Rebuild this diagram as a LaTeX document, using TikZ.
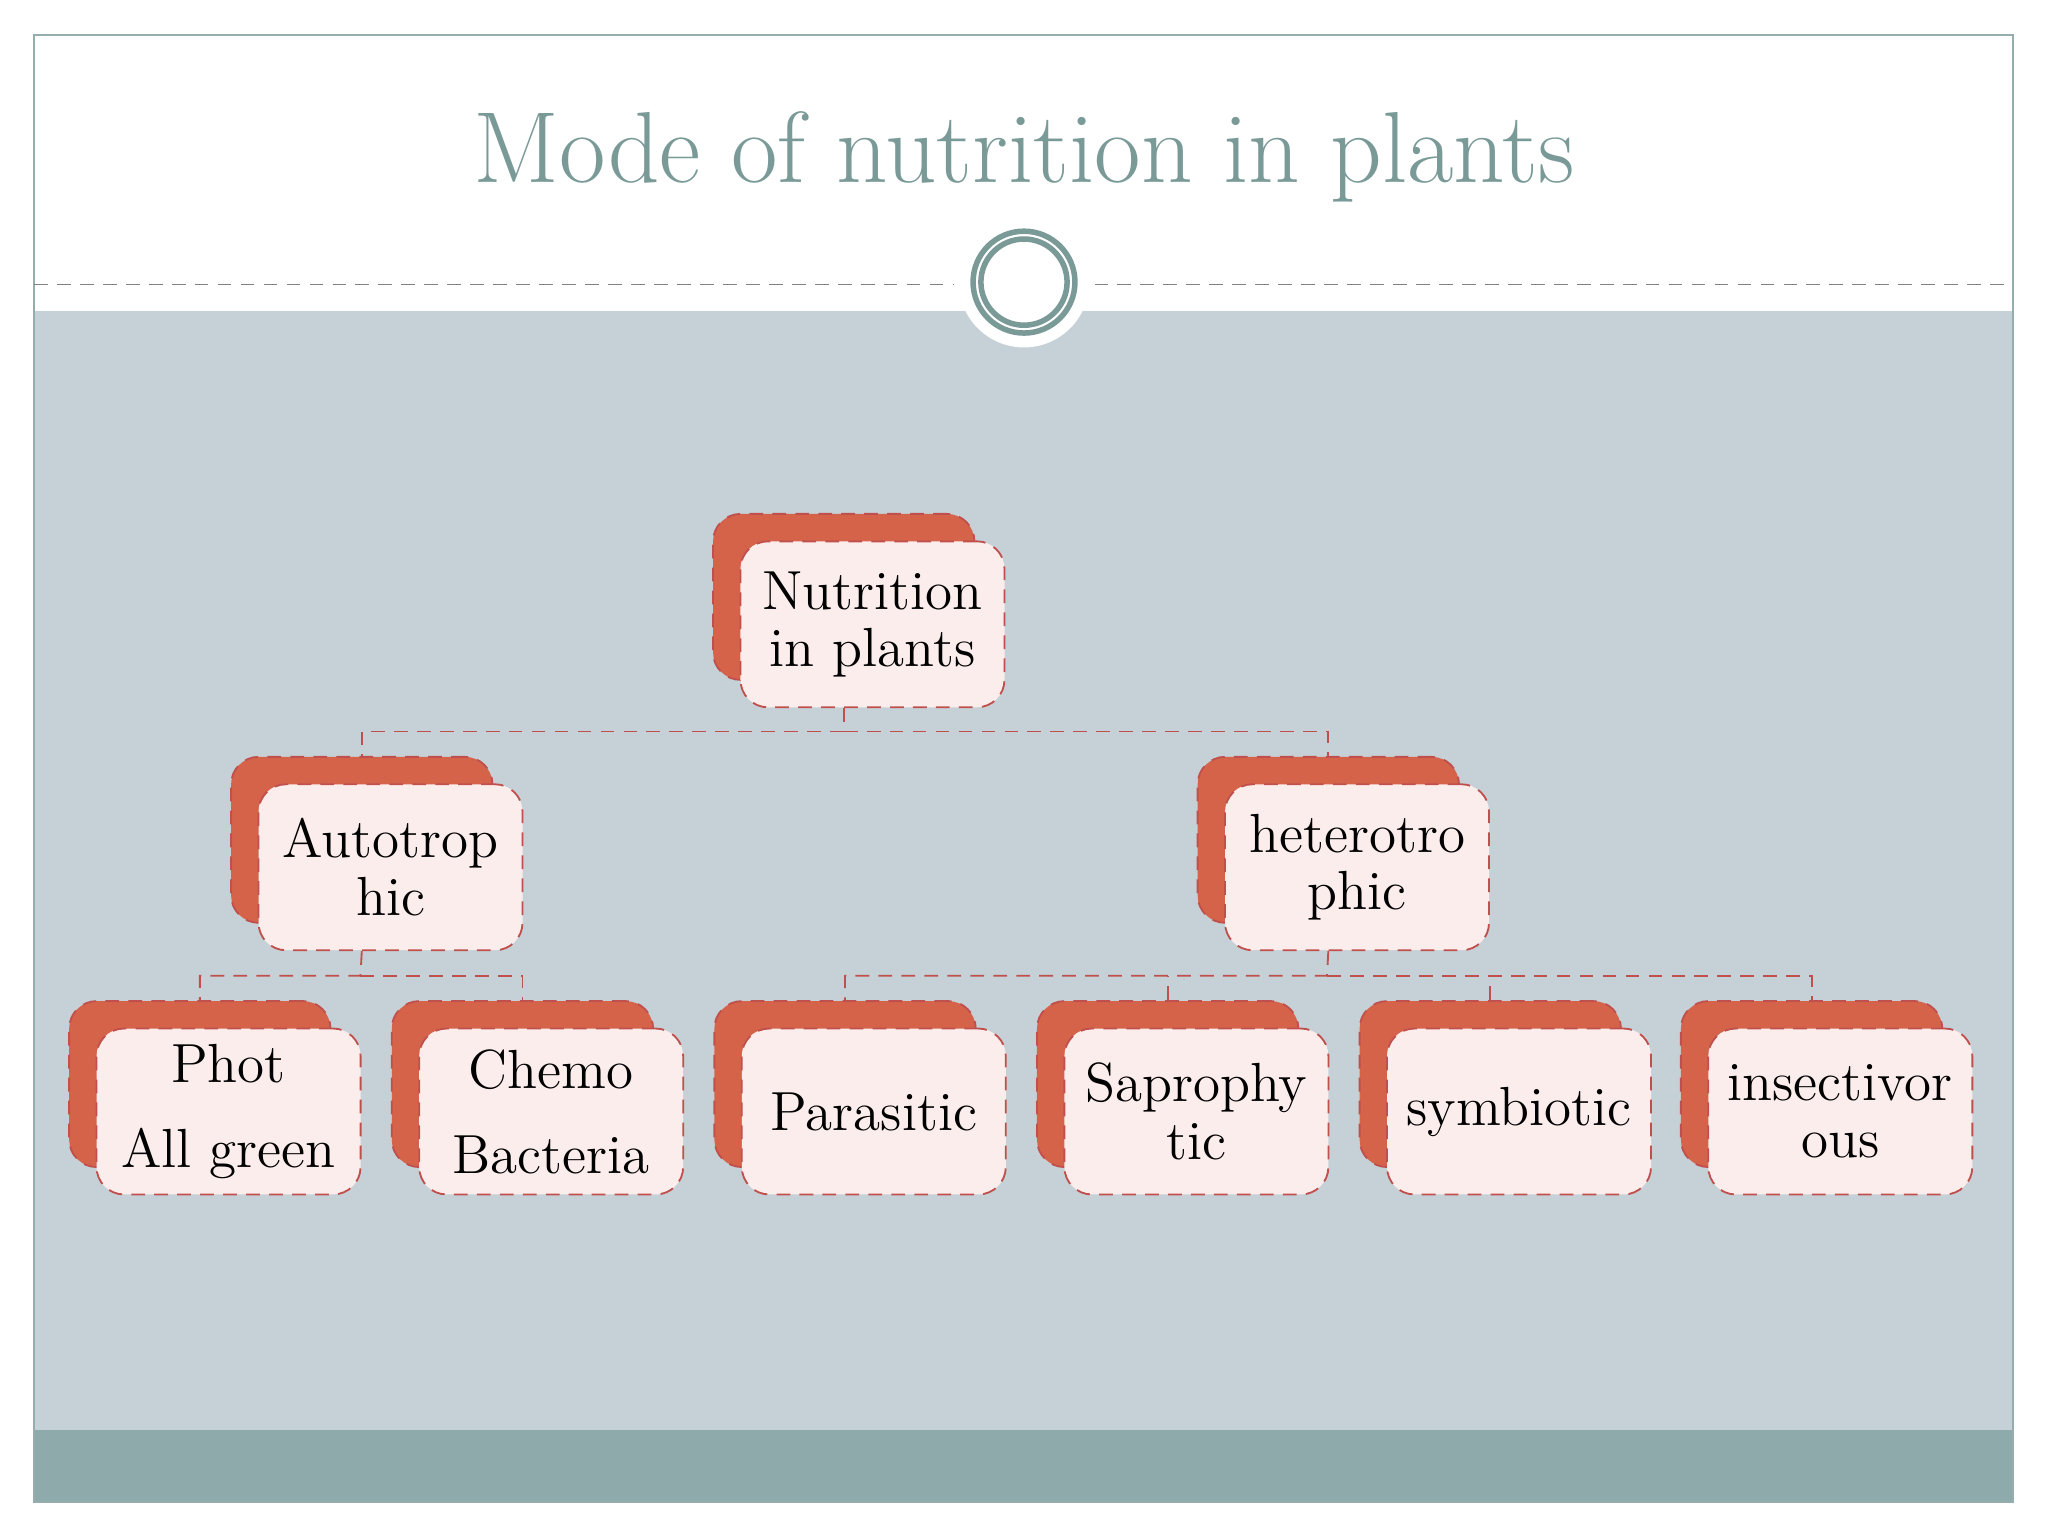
\documentclass[tikz,border=0pt]{standalone}
\usetikzlibrary{positioning,calc}
\definecolor{teal}{HTML}{7A9A98}
\definecolor{slate}{HTML}{C5D1D6}
\definecolor{band}{HTML}{8EAAAA}
\definecolor{rust}{HTML}{D5634A}
\definecolor{dash}{HTML}{C0504D}
\definecolor{blush}{HTML}{FBEDEC}
\tikzset{
  backbox/.style={fill=rust,draw=dash,densely dashed,rounded corners=6pt,
    minimum width=2cm,minimum height=1.27cm},
  frontbox/.style={fill=blush,draw=dash,densely dashed,rounded corners=6pt,
    minimum width=2.02cm,minimum height=1.27cm,align=center,inner sep=1pt,
    text width=1.95cm,font=\fontsize{12}{12.5}\selectfont},
  conn/.style={draw=dash,densely dashed,thin}}
% back box offset up-left from the front box
\newcommand{\tbox}[4]{%
  \node[backbox] (#1b) at ($(#2,#3)+(-22,-21)$) {};
  \node[frontbox] (#1) at (#2,#3) {#4};}
\begin{document}
\begin{tikzpicture}[x=0.01cm,y=-0.01cm]
\useasboundingbox (0,0) rectangle (1568,1176);
% slide background
\fill[slate] (26,238) rectangle (1541,1095);
\fill[band] (26,1095) rectangle (1541,1150);
\draw[teal!80] (26,27) rectangle (1541,1150);
\draw[gray,densely dashed,very thin] (26,218) -- (730,218) (838,218) -- (1541,218);
\fill[white] (784,216) circle (50);
\draw[teal,line width=1.2pt] (784,216) circle (39);
\draw[teal,line width=1.2pt] (784,216) circle (33);
\node[text=teal,font=\fontsize{22}{26}\selectfont] (title) at (784,120) {Mode of nutrition in plants};
% tree
\tbox{root}{668}{478}{Nutrition\\in plants}
\tbox{auto}{299}{664}{Autotrop\\hic}
\tbox{hetero}{1039}{664}{heterotro\\phic}
\tbox{phot}{175}{851}{Phot\\[6pt]All green}
\tbox{chemo}{422}{851}{Chemo\\[6pt]Bacteria}
\tbox{para}{669}{851}{Parasitic}
\tbox{sapro}{916}{851}{Saprophy\\tic}
\tbox{sym}{1163}{851}{symbiotic}
\tbox{insect}{1409}{851}{insectivor\\ous}
\coordinate (bus1) at (646,560);
\coordinate (bus2) at (276,747);
\coordinate (bus3) at (1016,747);
\draw[conn] (rootb.center |- root.south) -- (bus1) -| (autob.north);
\draw[conn] (bus1) -| (heterob.north);
\draw[conn] (autob.center |- auto.south) -- (bus2) -| (photb.north);
\draw[conn] (bus2) -| (chemob.north);
\draw[conn] (heterob.center |- hetero.south) -- (bus3) -| (parab.north);
\draw[conn] (bus3) -| (insectb.north);
\draw[conn] (saprob.north) -- (saprob.north |- bus3);
\draw[conn] (symb.north) -- (symb.north |- bus3);
\end{tikzpicture}
\end{document}
